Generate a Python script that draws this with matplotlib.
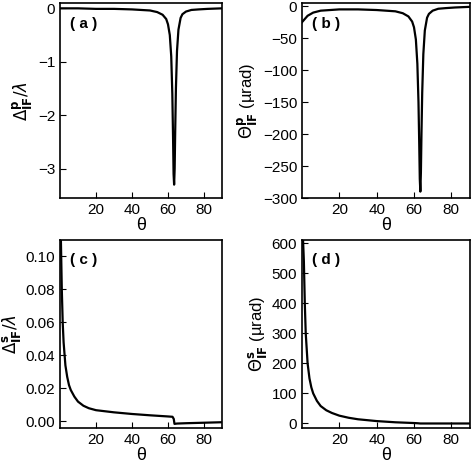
import matplotlib
matplotlib.use("Agg")
import matplotlib.pyplot as plt

theta_a = [0, 10, 20, 30, 40, 45, 50, 54, 57, 59, 60, 61, 61.8, 62.4, 62.8, 63.1, 63.4, 63.7, 64.0, 64.4, 65, 65.8, 67, 68, 70, 73, 77, 82, 90]
delta_p = [0, 0, -0.01, -0.01, -0.02, -0.03, -0.04, -0.07, -0.12, -0.2, -0.3, -0.5, -0.9, -1.6, -2.4, -3.1, -3.3, -3.0, -2.3, -1.5, -0.8, -0.4, -0.18, -0.11, -0.06, -0.03, -0.02, -0.01, 0]
theta_b = [0, 3, 6, 10, 20, 30, 40, 45, 50, 54, 57, 59, 60, 61, 61.8, 62.4, 62.8, 63.1, 63.4, 63.7, 64.0, 64.4, 65, 65.8, 67, 68, 70, 73, 77, 82, 90]
theta_p = [-25, -15, -10, -7, -5, -5, -6, -7, -8, -11, -16, -24, -33, -52, -90, -150, -215, -270, -290, -260, -200, -135, -75, -38, -18, -12, -7, -4, -3, -2, -1]
theta_c = [0.5, 1, 1.5, 2, 3, 4, 5, 6, 8, 10, 13, 16, 20, 30, 40, 50, 60, 62.5, 63.2, 63.6, 65, 70, 80, 90]
delta_s = [0.11, 0.08, 0.06, 0.048, 0.034, 0.027, 0.022, 0.019, 0.015, 0.012, 0.0095, 0.008, 0.0068, 0.0055, 0.0045, 0.0037, 0.003, 0.0028, 0.0015, -0.0015, -0.0013, -0.0011, -0.0008, -0.0005]
theta_d = [0.5, 1, 1.5, 2, 3, 4, 5, 6, 8, 10, 13, 16, 20, 25, 30, 40, 50, 60, 62, 63.4, 65, 70, 80, 90]
theta_s = [620, 540, 400, 300, 200, 150, 120, 100, 75, 58, 44, 35, 26, 19, 14, 8, 4, 1.5, 0.8, 0, 0, 0, 0, 0]

plt.rcParams['font.family'] = ['Liberation Sans', 'DejaVu Sans']
plt.rcParams['mathtext.fontset'] = 'dejavusans'
fig = plt.figure(figsize=(4.74, 4.65), dpi=100)
W, H = 474, 465
def ax_at(x0, x1, y0, y1):
    return fig.add_axes([x0 / W, 1 - y1 / H, (x1 - x0) / W, (y1 - y0) / H])

specs = [
    (ax_at(60, 222, 3, 198), theta_a, delta_p, (-3.55, 0.1), [0, -1, -2, -3], r'$\Delta^{\mathbf{p}}_{\mathbf{IF}}/\lambda$', '( a )'),
    (ax_at(302, 470, 3, 198), theta_b, theta_p, (-300, 5), [0, -50, -100, -150, -200, -250, -300], r'$\Theta^{\mathbf{p}}_{\mathbf{IF}}$ (µrad)', '( b )'),
    (ax_at(60, 222, 240, 428), theta_c, delta_s, (-0.004, 0.11), [0, 0.02, 0.04, 0.06, 0.08, 0.1], r'$\Delta^{\mathbf{s}}_{\mathbf{IF}}/\lambda$', '( c )'),
    (ax_at(302, 470, 240, 428), theta_d, theta_s, (-15, 610), [0, 100, 200, 300, 400, 500, 600], r'$\Theta^{\mathbf{s}}_{\mathbf{IF}}$ (µrad)', '( d )'),
]
for ax, x, y, yl, yt, lab, tag in specs:
    ax.plot(x, y, color='black', lw=1.6)
    ax.set_xlim(0, 90)
    ax.set_ylim(*yl)
    ax.set_xticks([20, 40, 60, 80])
    ax.set_yticks(yt)
    ax.tick_params(direction='in', labelsize=11, length=4)
    ax.set_xlabel('θ', fontsize=13, labelpad=0)
    ax.set_ylabel(lab, fontsize=12, labelpad=2)
    for s in ax.spines.values():
        s.set_linewidth(1.2)
    ax.text(0.06, 0.93, tag, transform=ax.transAxes, fontsize=11, fontweight='bold', va='top')
fig.savefig('out.png', dpi=100)
